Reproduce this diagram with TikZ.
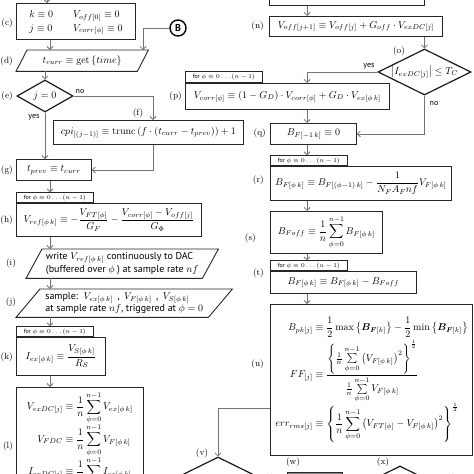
\documentclass[tikz,border=0pt]{standalone}
\usepackage{fontspec}
\usepackage{amsmath,amssymb,bm}
\newfontfamily\labsf{PT Sans}
\usetikzlibrary{shapes.geometric,arrows.meta,calc}
\newcommand\mfont{\fontsize{10}{12}\selectfont}
\begin{document}
\begin{tikzpicture}[x=1pt,y=-1pt,
  box/.style={draw=black!85, line width=0.9pt, inner sep=0pt, anchor=north west, align=center, font=\mfont},
  hdr/.style={draw=black!85, line width=0.7pt, inner sep=0pt, anchor=south west, font=\labsf\fontsize{6}{7}\selectfont},
  paral/.style={inner sep=0pt, anchor=north west, align=left, font=\labsf\fontsize{10}{12.5}\selectfont},
  pline/.style={draw=black!85, line width=0.9pt},
  dia/.style={diamond, draw=black!90, line width=1.2pt, inner sep=0pt, aspect=2, font=\mfont},
  lab/.style={font=\fontsize{9}{10}\selectfont, inner sep=0pt},
  arr/.style={draw=black!55, line width=0.75pt, -{Straight Barb[length=3pt,width=6pt]}},
  yn/.style={font=\labsf\fontsize{8}{9}\selectfont, inner sep=0pt},
]
\useasboundingbox (0,0) rectangle (474,474);
\clip (0,0) rectangle (474,474);
% column coordinates
\coordinate (xl) at (50,0);
\coordinate (xb) at (143,0);
\coordinate (xf) at (153,0);
\coordinate (xr) at (307,0);
\coordinate (yu) at (0,408);
\coordinate (ctop) at (47,-10);

% ---------------- left column ----------------
\node[box, minimum width=119, minimum height=36] (c) at (16,3)
  {$\renewcommand{\arraystretch}{1.15}\begin{array}{l@{\qquad}l} k\equiv 0 & V_{off[0]}\equiv 0\\ j\equiv 0 & V_{corr[\phi]}\equiv 0\end{array}$};
\node[lab, anchor=east] at (13,23) {(c)};

\node[circle, draw=black, line width=1.4pt, minimum size=16, inner sep=0pt, font=\labsf\bfseries\fontsize{10}{12}\selectfont] (B) at (178,28) {B};

\node[paral, minimum width=132, minimum height=21, align=center, font=\mfont] (d) at (16,50) {$t_{curr}\equiv\mathrm{get}\,\{time\}$};
\draw[pline] (d.south west) -- ($(d.north west)+(11,0)$) -- (d.north east) -- ($(d.south east)+(-11,0)$) -- cycle;
\node[lab, anchor=east] at (13,61) {(d)};

\node[dia, minimum width=56, minimum height=32] (e) at (45,96) {$j=0$};
\node[lab, anchor=east] at (13,96) {(e)};
\node[yn] at (80,91) {no};
\node[yn] at (34,117) {yes};

\node[box, minimum width=190, minimum height=24] (f) at (53,120)
  {$cpi_{[(j-1)]}\equiv\mathrm{trunc}\left(f\cdot\left(t_{curr}-t_{prev}\right)\right)+1$};
\node[lab] at (138,113) {(f)};

\node[box, minimum width=75, minimum height=21] (g) at (16,159) {$t_{prev}\equiv t_{curr}$};
\node[lab, anchor=east] at (13,170) {(g)};

\node[hdr, minimum width=77, minimum height=10] (hh) at (16,203) {for $\phi\equiv 0\ldots(n-1)$};
\node[box, minimum width=185, minimum height=33] (h) at (16,203)
  {$V_{ref[\phi\,k]}\equiv-\dfrac{V_{FT[\phi]}}{G_F}-\dfrac{V_{corr[\phi]}-V_{off[j]}}{G_\Phi}$};
\node[lab, anchor=east] at (13,220) {(h)};

\node[paral, minimum width=192, minimum height=29] (i) at (26,249)
  {write $V_{ref[\phi\,k]}$ continuously to DAC\\(buffered over $\phi$ ) at sample rate $nf$};
\draw[pline] (i.south west) -- ($(i.north west)+(16,0)$) -- (i.north east) -- ($(i.south east)+(-16,0)$) -- cycle;
\node[lab] at (11,263) {(i)};

\node[paral, minimum width=216, minimum height=28] (j) at (16,289)
  {sample:\ \ $V_{ex[\phi\,k]}$ \,,\, $V_{F[\phi\,k]}$ \,,\, $V_{S[\phi\,k]}$\\at sample rate $nf$, triggered at $\phi=0$};
\draw[pline] (j.south west) -- ($(j.north west)+(24,0)$) -- (j.north east) -- ($(j.south east)+(-24,0)$) -- cycle;
\node[lab] at (11,302) {(j)};

\node[hdr, minimum width=77, minimum height=10] (kh) at (16,337) {for $\phi\equiv 0\ldots(n-1)$};
\node[box, minimum width=89, minimum height=38] (k) at (16,337)
  {$I_{ex[\phi\,k]}\equiv\dfrac{V_{S[\phi\,k]}}{R_S}$};
\node[lab, anchor=east] at (13,357) {(k)};

\node[box, minimum width=127, minimum height=106] (l) at (16,387)
  {$\begin{array}{r@{}l}
   \displaystyle V_{exDC[j]} & \displaystyle{}\equiv\frac1n\sum_{\phi=0}^{n-1}V_{ex[\phi\,k]}\\[2pt]
   \displaystyle V_{FDC} & \displaystyle{}\equiv\frac1n\sum_{\phi=0}^{n-1}V_{F[\phi\,k]}\\[2pt]
   \displaystyle I_{exDC[j]} & \displaystyle{}\equiv\frac1n\sum_{\phi=0}^{n-1}I_{ex[\phi\,k]}
   \end{array}$};
\node[lab] at (8,446) {(l)};

% ---------------- right column ----------------
\node[box, minimum width=155, minimum height=45] (m) at (269,-40) {};

\node[box, minimum width=173, minimum height=20] (n) at (269,16)
  {$V_{off[j+1]}\equiv V_{off[j]}+G_{off}\cdot V_{exDC[j]}$};
\node[lab, anchor=east] at (264,26) {(n)};

\node[dia, minimum width=93, minimum height=46] (o) at (424.5,72) {$\left|I_{exDC[j]}\right|\le T_C$};
\node[lab] at (399,51) {(o)};
\node[yn] at (369,66) {yes};
\node[yn] at (434,103) {no};

\node[hdr, minimum width=77, minimum height=11] (ph) at (185,83) {for $\phi\equiv 0\ldots(n-1)$};
\node[box, minimum width=204, minimum height=26] (p) at (185,83)
  {$V_{corr[\phi]}\equiv(1-G_D)\cdot V_{corr[\phi]}+G_D\cdot V_{ex[\phi\,k]}$};
\node[lab, anchor=east] at (182,96) {(p)};

\node[box, minimum width=86, minimum height=21] (q) at (270,123) {$B_{F[-1\,k]}\equiv 0$};
\node[lab, anchor=east] at (266,133) {(q)};

\node[hdr, minimum width=77, minimum height=10] (rh) at (270,166) {for $\phi\equiv 0\ldots(n-1)$};
\node[box, minimum width=181, minimum height=34] (r) at (270,166)
  {$B_{F[\phi\,k]}\equiv B_{F[(\phi-1)\,k]}-\dfrac{1}{N_FA_Fnf}V_{F[\phi\,k]}$};
\node[lab, anchor=east] at (264,180) {(r)};

\node[box, minimum width=112, minimum height=42] (s) at (270,211)
  {$B_{Foff}\equiv\dfrac1n\displaystyle\sum_{\phi=0}^{n-1}B_{F[\phi\,k]}$};
\node[lab, anchor=east] at (256,238) {(s)};

\node[hdr, minimum width=77, minimum height=10] (th) at (270,271) {for $\phi\equiv 0\ldots(n-1)$};
\node[box, minimum width=146, minimum height=22] (t) at (270,271)
  {$B_{F[\phi\,k]}\equiv B_{F[\phi\,k]}-B_{Foff}$};
\node[lab, anchor=east] at (264,273) {(t)};

\node[box, minimum width=201, minimum height=151] (u) at (270,304)
  {$\begin{array}{r@{}l}
   \displaystyle B_{pk[j]} & \displaystyle{}\equiv\frac12\max\left\{\bm{B}_{\bm{F}[k]}\right\}-\frac12\min\left\{\bm{B}_{\bm{F}[k]}\right\}\\[6pt]
   \displaystyle FF_{[j]} & \displaystyle{}\equiv\frac{\left\{\frac1n\sum\limits_{\phi=0}^{n-1}\left(V_{F[\phi\,k]}\right)^2\right\}^{\frac12}}{\frac1n\sum\limits_{\phi=0}^{n-1}V_{F[\phi\,k]}}\\[12pt]
   \displaystyle err_{rms[j]} & \displaystyle{}\equiv\left\{\frac1n\sum_{\phi=0}^{n-1}\left(V_{FT[\phi]}-V_{F[\phi\,k]}\right)^2\right\}^{\frac12}
   \end{array}$};
\node[lab, anchor=east] at (264,364) {(u)};

\node[dia, minimum width=93, minimum height=46] (v) at (218,480) {};
\node[lab] at (202,453) {(v)};
\node[yn, anchor=base] at (268,478) {yes};

\node[box, minimum width=55, minimum height=30, fill=black!45] (w) at (287,472) {};
\node[lab] at (293,462) {(w)};

\node[dia, minimum width=93, minimum height=46] (x) at (400,489) {};
\node[lab] at (383,462) {(x)};
\node[yn, anchor=base] at (449,478) {yes};

% ---------------- connectors ----------------
\draw[arr] (ctop) -- (c.north -| ctop);
\draw[arr] (c.south -| xl) -- (d.north -| xl);
\draw[arr] (B.west) -| (d.north -| xb);
\draw[arr] (d.south -| e.north) -- (e.north);
\draw[arr] (e.east) -| (f.north -| xf);
\draw[arr] (e.south) -- (g.north -| e.south);
\draw[arr] (f.south -| xf) |- (g.east);
\draw[arr] (g.south -| xl) -- (hh.north -| xl);
\draw[arr] (h.south -| xl) -- (i.north -| xl);
\draw[arr] (i.south -| xl) -- (j.north -| xl);
\draw[arr] (j.south -| xl) -- (kh.north -| xl);
\draw[arr] (k.south -| xl) -- (l.north -| xl);

\draw[arr] (m.south -| xr) -- (n.north -| xr);
\draw[arr] (n.south -| o.north) -- (o.north);
\draw[arr] (o.west) -| (p.north -| xr);
\draw[arr] (o.south) |- (q.east);
\draw[arr] (p.south -| xr) -- (q.north -| xr);
\draw[arr] (q.south -| xr) -- (rh.north -| xr);
\draw[arr] (r.south -| xr) -- (s.north -| xr);
\draw[arr] (s.south -| xr) -- (th.north -| xr);
\draw[arr] (t.south -| xr) -- (u.north -| xr);
\draw[arr] (u.west |- yu) -| (v.north);
\end{tikzpicture}
\end{document}
